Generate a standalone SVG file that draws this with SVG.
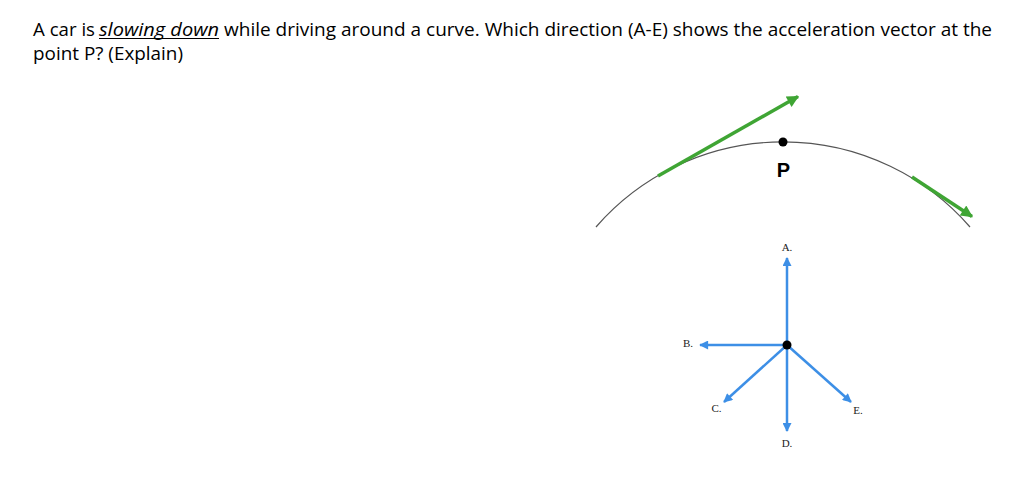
<svg xmlns="http://www.w3.org/2000/svg" width="1024" height="487" viewBox="0 0 1024 487">
<style>
.q{font-family:"Open Sans","Liberation Sans",sans-serif;font-size:18.5px;fill:#000}
.lbl{font-family:"Liberation Serif","Times New Roman",serif;font-size:11px;fill:#222;text-anchor:middle}
.g{stroke:#3fa534;stroke-width:3.5;fill:none}
.b{stroke:#3d8fe6;stroke-width:2.5;fill:none}
</style>
<defs>
<marker id="gh" viewBox="0 0 10 10" refX="9" refY="5" markerWidth="15" markerHeight="12" markerUnits="userSpaceOnUse" orient="auto">
<path d="M0,0 L10,5 L0,10 z" fill="#3fa534"/>
</marker>
<marker id="bh" viewBox="0 0 10 10" refX="9" refY="5" markerWidth="11" markerHeight="9" markerUnits="userSpaceOnUse" orient="auto">
<path d="M0,0 L10,5 L0,10 z" fill="#3d8fe6"/>
</marker>
</defs>
<rect width="1024" height="487" fill="#fff"/>
<g id="question">
<text class="q" x="33" y="36" textLength="62" lengthAdjust="spacingAndGlyphs">A car is</text>
<text class="q" x="99" y="36" font-style="italic" textLength="120" lengthAdjust="spacingAndGlyphs">slowing down</text>
<line x1="99" y1="38.5" x2="219" y2="38.5" stroke="#000" stroke-width="1.2"/>
<text class="q" x="224" y="36" textLength="768" lengthAdjust="spacingAndGlyphs">while driving around a curve. Which direction (A-E) shows the acceleration vector at the</text>
<text class="q" x="33" y="60" textLength="150" lengthAdjust="spacingAndGlyphs">point P? (Explain)</text>
</g>
<g id="curve">
<path d="M596,227 A248,248 0 0 1 970,227" fill="none" stroke="#555" stroke-width="1.2"/>
</g>
<g id="point-P">
<circle cx="783" cy="142" r="4.5" fill="#000"/>
<text x="783.5" y="177" font-family="'Liberation Sans',Arial,sans-serif" font-weight="bold" font-size="20" text-anchor="middle">P</text>
</g>
<g id="connectors">
<line class="g" x1="658" y1="176" x2="798" y2="96.5" marker-end="url(#gh)"/>
<line class="g" x1="912" y1="177" x2="972" y2="216.5" marker-end="url(#gh)"/>
<line class="b" x1="787" y1="345" x2="787" y2="258" marker-end="url(#bh)"/>
<line class="b" x1="787" y1="345" x2="700" y2="345" marker-end="url(#bh)"/>
<line class="b" x1="787" y1="345" x2="724" y2="402" marker-end="url(#bh)"/>
<line class="b" x1="787" y1="345" x2="787" y2="431" marker-end="url(#bh)"/>
<line class="b" x1="787" y1="345" x2="851" y2="402" marker-end="url(#bh)"/>
</g>
<g id="center">
<circle cx="787" cy="345" r="4.5" fill="#000"/>
</g>
<g id="labels">
<text class="lbl" x="787" y="251">A.</text>
<text class="lbl" x="688" y="347">B.</text>
<text class="lbl" x="716.5" y="412">C.</text>
<text class="lbl" x="787" y="447">D.</text>
<text class="lbl" x="858" y="414">E.</text>
</g>
</svg>
